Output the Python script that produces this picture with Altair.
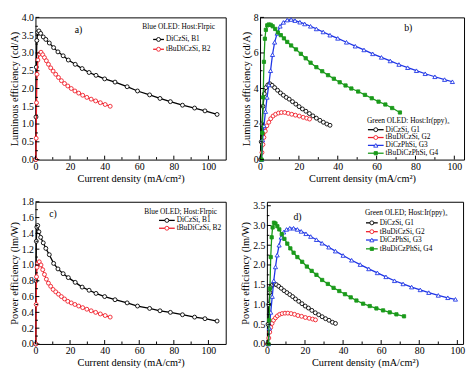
import altair as alt
import pandas as pd

FONT = "Liberation Serif"
XTITLE = "Current density (mA/cm²)"
PANEL_LABELS = ["a)", "b)", "c)", "d)"]
BLUE_NAMES = ["DiCzSi, B1", "tBuDiCzSi, B2"]
GREEN_NAMES = ["DiCzSi, G1", "tBuDiCzSi, G2", "DiCzPhSi, G3", "tBuDiCzPhSi, G4"]
LEGEND_TITLES = ["Blue OLED: Host:Flrpic", "Green OLED: Host:Ir(ppy)₃",
                 "Blue OLED; Host:Flrpic", "Green OLED; Host:Ir(ppy)₃"]
YTITLES = ["Luminous efficiency (cd/A)", "Luminous efficiency (cd/A)",
           "Power efficiency (lm/W)", "Power efficiency (lm/W)"]

COLORS = ["#000000", "#f01c28", "#1f35e6", "#1a9a1a"]
SHAPES = ["circle", "circle", "triangle-up", "square"]

X_TICKS = [0, 20, 40, 60, 80, 100]
X_MINOR = [10, 30, 50, 70, 90]
Y_TICKS_A = [0, 0.5, 1.0, 1.5, 2.0, 2.5, 3.0, 3.5, 4.0]
Y_MINOR_A = [0.25, 0.75, 1.25, 1.75, 2.25, 2.75, 3.25, 3.75]
Y_TICKS_B = [0, 2, 4, 6, 8]
Y_MINOR_B = [1, 3, 5, 7]
Y_TICKS_C = [0, 0.2, 0.4, 0.6, 0.8, 1.0, 1.2, 1.4, 1.6, 1.8]
Y_MINOR_C = [0.1, 0.3, 0.5, 0.7, 0.9, 1.1, 1.3, 1.5, 1.7]
Y_TICKS_D = [0, 0.5, 1.0, 1.5, 2.0, 2.5, 3.0, 3.5]
Y_MINOR_D = [0.25, 0.75, 1.25, 1.75, 2.25, 2.75, 3.25]

# ---- blue devices ----
B1_J = [0.1, 0.3, 0.5, 0.8, 1.3, 2, 3, 4.5, 6, 8, 10.5, 13, 16, 19, 23, 27, 31, 35,
        40, 46, 53, 59, 66, 72, 78, 85, 92, 98, 105]
B1_LE = [0.0, 1.2, 2.6, 3.35, 3.58, 3.62, 3.55, 3.45, 3.38, 3.28, 3.15, 3.03, 2.92,
         2.8, 2.68, 2.56, 2.45, 2.37, 2.27, 2.18, 2.05, 1.93, 1.82, 1.72, 1.63, 1.53,
         1.45, 1.37, 1.27]
B1_PE = [0.0, 0.8, 1.3, 1.48, 1.5, 1.42, 1.35, 1.28, 1.21, 1.13, 1.02, 0.95, 0.89,
         0.84, 0.78, 0.72, 0.68, 0.64, 0.6, 0.56, 0.52, 0.48, 0.45, 0.42, 0.40, 0.37,
         0.34, 0.32, 0.29]
B2_J = [0.2, 0.4, 0.6, 0.9, 1.4, 2.2, 3.2, 4.2, 5.2, 6.3, 7.5, 8.8, 10.2, 11.7, 13.3,
        15, 16.8, 18.7, 20.7, 22.8, 25, 27.3, 29.7, 32.2, 34.8, 37.5, 40.3, 43.2]
B2_LE = [0.0, 0.6, 1.6, 2.4, 2.8, 2.97, 3.02, 2.95, 2.87, 2.78, 2.68, 2.58, 2.49, 2.4,
         2.31, 2.22, 2.14, 2.07, 2.0, 1.93, 1.87, 1.81, 1.75, 1.7, 1.65, 1.6, 1.55, 1.5]
B2_PE = [0.0, 0.5, 0.85, 0.97, 1.02, 1.04, 1.0, 0.94, 0.88, 0.82, 0.77, 0.73, 0.69,
         0.66, 0.63, 0.6, 0.57, 0.54, 0.52, 0.5, 0.48, 0.46, 0.44, 0.42, 0.4, 0.38,
         0.36, 0.34]

# ---- green devices ----
G1_J = [0.3, 0.6, 1.0, 1.5, 2.2, 3.0, 4.0, 5.0, 6.2, 7.5, 9.0, 10.5, 12.0, 13.5, 15.0,
        16.7, 18.4, 20.1, 21.8, 23.6, 25.4, 27.2, 29.0, 30.8, 32.6, 34.4, 36.0]
G1_LE = [0.0, 1.0, 2.0, 3.0, 3.7, 4.05, 4.2, 4.27, 4.18, 4.05, 3.9, 3.75, 3.62, 3.5,
         3.4, 3.26, 3.12, 2.98, 2.85, 2.72, 2.59, 2.46, 2.33, 2.21, 2.1, 2.0, 1.93]
G1_PE = [0.0, 0.5, 1.0, 1.3, 1.45, 1.5, 1.52, 1.5, 1.46, 1.41, 1.35, 1.3, 1.25, 1.2,
         1.14, 1.08, 1.02, 0.96, 0.91, 0.85, 0.79, 0.74, 0.69, 0.64, 0.6, 0.55, 0.52]
G2_J = [0.5, 1.0, 1.5, 2.0, 2.7, 3.5, 4.5, 5.5, 6.7, 8.0, 9.5, 11.0, 12.7, 14.5, 16.3,
        18.2, 20.2, 22.2, 24.0, 25.5]
G2_LE = [0.0, 0.4, 0.85, 1.25, 1.6, 1.9, 2.1, 2.3, 2.45, 2.55, 2.62, 2.65, 2.65, 2.6,
         2.55, 2.5, 2.45, 2.38, 2.33, 2.28]
G2_PE = [0.0, 0.15, 0.3, 0.42, 0.52, 0.6, 0.66, 0.71, 0.75, 0.77, 0.78, 0.78, 0.77,
         0.75, 0.72, 0.7, 0.67, 0.65, 0.63, 0.61]
G3_J = [0.8, 1.3, 2.0, 2.8, 3.6, 4.5, 5.4, 6.4, 7.5, 8.8, 10.3, 12.0, 14.0, 16.0, 18.0,
        20.5, 23.0, 26.0, 29.0, 32.5, 36.0, 40.0, 44.5, 49.0, 53.5, 58.0, 62.5, 67.0,
        71.5, 76.0, 80.5, 85.0, 90.0, 95.0, 99.0]
G3_LE = [0.0, 1.1, 1.9, 2.7, 3.5, 4.2, 5.0, 5.9, 6.6, 7.1, 7.5, 7.72, 7.85, 7.88, 7.82,
         7.73, 7.63, 7.5, 7.35, 7.18, 7.0, 6.82, 6.6, 6.38, 6.17, 5.95, 5.75, 5.55,
         5.35, 5.17, 5.0, 4.83, 4.66, 4.5, 4.38]
G3_PE = [0.0, 0.4, 0.8, 1.2, 1.6, 1.95, 2.25, 2.5, 2.7, 2.83, 2.9, 2.93, 2.93, 2.9,
         2.85, 2.79, 2.72, 2.64, 2.55, 2.45, 2.35, 2.24, 2.12, 2.01, 1.9, 1.8, 1.7,
         1.6, 1.52, 1.44, 1.37, 1.3, 1.23, 1.17, 1.13]
G4_J = [0.8, 1.2, 1.6, 2.0, 2.5, 3.0, 3.7, 4.5, 5.5, 6.5, 7.8, 9.2, 10.7, 12.3, 14.0,
        16.0, 18.5, 21.0, 23.5, 26.0, 29.0, 32.0, 35.0, 38.0, 41.0, 44.0, 47.0, 50.5,
        54.0, 57.5, 61.0, 64.5, 68.0, 72.0]
G4_LE = [0.0, 1.5, 3.5, 5.5, 6.8, 7.3, 7.55, 7.6, 7.58, 7.5, 7.35, 7.15, 7.0, 6.82,
         6.62, 6.42, 6.2, 5.95, 5.7, 5.45, 5.2, 4.97, 4.75, 4.55, 4.35, 4.17, 4.0,
         3.83, 3.64, 3.45, 3.26, 3.1, 2.9, 2.65]
G4_PE = [0.0, 0.6, 1.4, 2.2, 2.7, 2.95, 3.07, 3.05, 2.98, 2.9, 2.78, 2.66, 2.54, 2.42,
         2.31, 2.2, 2.08, 1.96, 1.85, 1.75, 1.62, 1.52, 1.42, 1.34, 1.26, 1.18, 1.1,
         1.02, 0.96, 0.9, 0.85, 0.8, 0.75, 0.7]

LEG_FS = 7.5
MARK_SIZE = {"circle": 16, "triangle-up": 18, "square": 11}


def make_axis(title, values, fmt):
    return alt.Axis(title=title, values=values, format=fmt, grid=False, ticks=False,
                    domain=False, labelPadding=2, titlePadding=2, labelOverlap=False,
                    labelFont=FONT, titleFont=FONT, labelFontSize=10, titleFontSize=10.5,
                    labelColor="black", titleColor="black", titleFontWeight="normal",
                    labelFontWeight="normal", labelFlush=False)


def panel(idx, names, xs, ys, xdom, ydom, yticks, yminor, yfmt, w, h,
          label_pos, leg_title_pos, leg_rows, sym_x):
    xsc = alt.Scale(domain=xdom, nice=False, zero=False)
    ysc = alt.Scale(domain=ydom, nice=False, zero=False)
    xax = make_axis(XTITLE, X_TICKS, "d")
    yax = make_axis(YTITLES[idx], yticks, yfmt)
    X = alt.X("x:Q", scale=xsc, axis=xax)
    Y = alt.Y("y:Q", scale=ysc, axis=yax)
    layers = []
    for k, (n, xv, yv) in enumerate(zip(names, xs, ys)):
        df = pd.DataFrame({"x": xv, "y": yv, "i": list(range(len(xv))), "series": n})
        shape = SHAPES[k] if len(names) == 4 else "circle"
        fill = COLORS[k] if shape == "square" else "white"
        layers.append(alt.Chart(df).mark_line(color=COLORS[k], strokeWidth=1.3)
                      .encode(X, Y, order="i:Q"))
        layers.append(alt.Chart(df).mark_point(shape=shape, size=MARK_SIZE[shape],
                                               stroke=COLORS[k], fill=fill, filled=True,
                                               opacity=1, strokeWidth=0.9)
                      .encode(X, Y))
    # inward ticks
    for vals, ln in ((X_TICKS, 4), (X_MINOR, 2.5)):
        tdf = pd.DataFrame({"x": vals})
        layers.append(alt.Chart(tdf).mark_rule(color="black", strokeWidth=1)
                      .encode(x=alt.X("x:Q", scale=xsc, axis=xax),
                              y=alt.value(h), y2=alt.value(h - ln)))
    for vals, ln in ((yticks, 4), (yminor, 2.5)):
        tdf = pd.DataFrame({"y": vals})
        layers.append(alt.Chart(tdf).mark_rule(color="black", strokeWidth=1)
                      .encode(y=alt.Y("y:Q", scale=ysc, axis=yax),
                              x=alt.value(0), x2=alt.value(ln)))
    # legend
    tdf = pd.DataFrame({"t": [LEGEND_TITLES[idx]]})
    layers.append(alt.Chart(tdf).mark_text(align="left", baseline="middle", font=FONT,
                                          fontSize=LEG_FS, color="black")
                  .encode(x=alt.value(leg_title_pos[0]), y=alt.value(leg_title_pos[1]),
                          text="t:N"))
    for k, n in enumerate(names):
        yy = leg_rows[k]
        shape = SHAPES[k] if len(names) == 4 else "circle"
        fill = COLORS[k] if shape == "square" else "white"
        ldf = pd.DataFrame({"t": [n]})
        layers.append(alt.Chart(ldf).mark_rule(color=COLORS[k], strokeWidth=1.3)
                      .encode(x=alt.value(sym_x[0]), x2=alt.value(sym_x[1]),
                              y=alt.value(yy)))
        layers.append(alt.Chart(ldf).mark_point(shape=shape, size=MARK_SIZE[shape],
                                                stroke=COLORS[k], fill=fill, filled=True,
                                                opacity=1, strokeWidth=0.9)
                      .encode(x=alt.value((sym_x[0] + sym_x[1]) / 2), y=alt.value(yy)))
        layers.append(alt.Chart(ldf).mark_text(align="left", baseline="middle", font=FONT,
                                               fontSize=LEG_FS, color="black")
                      .encode(x=alt.value(sym_x[1] + 2), y=alt.value(yy), text="t:N"))
    pdf = pd.DataFrame({"t": [PANEL_LABELS[idx]]})
    layers.append(alt.Chart(pdf).mark_text(align="left", baseline="middle", font=FONT,
                                           fontSize=10, color="black")
                  .encode(x=alt.value(label_pos[0]), y=alt.value(label_pos[1]), text="t:N"))
    return alt.layer(*layers).properties(width=w, height=h)


H = 145
pa = panel(0, BLUE_NAMES, [B1_J, B2_J], [B1_LE, B2_LE], [0, 110], [0, 4.0],
           Y_TICKS_A, Y_MINOR_A, ".1f", 194, H, (40, 13), (109, 10), [22.5, 32.5], (120, 131))
pb = panel(1, GREEN_NAMES, [G1_J, G2_J, G3_J, G4_J], [G1_LE, G2_LE, G3_LE, G4_LE],
           [0, 105], [0, 8.0], Y_TICKS_B, Y_MINOR_B, "d", 208, H, (147, 11), (109, 105.5),
           [114.5, 122.5, 130.5, 138.5], (110, 126))
pc = panel(2, BLUE_NAMES, [B1_J, B2_J], [B1_PE, B2_PE], [0, 110], [0, 1.8],
           Y_TICKS_C, Y_MINOR_C, ".1f", 194, H, (14, 13), (111, 10), [19, 27], (126, 142))
pd_ = panel(3, GREEN_NAMES, [G1_J, G2_J, G3_J, G4_J], [G1_PE, G2_PE, G3_PE, G4_PE],
            [0, 103], [0, 3.6], Y_TICKS_D, Y_MINOR_D, ".1f", 200, H, (27, 16), (100, 11.5),
            [21.5, 30.5, 39, 48], (101, 113))

chart = alt.vconcat(
    alt.hconcat(pa, pb, spacing=14),
    alt.hconcat(pc, pd_, spacing=14),
    spacing=12,
).properties(padding=0, background="white").configure(
    font=FONT,
    style={"guide-label": {"font": FONT},
           "guide-title": {"font": FONT, "fontWeight": "normal"}},
).configure_view(
    stroke="black", strokeWidth=1
).configure_axis(
    labelFont=FONT, titleFont=FONT, titleFontWeight="normal"
)

chart.save("out.html", embed_options={"renderer": "svg", "actions": False})
